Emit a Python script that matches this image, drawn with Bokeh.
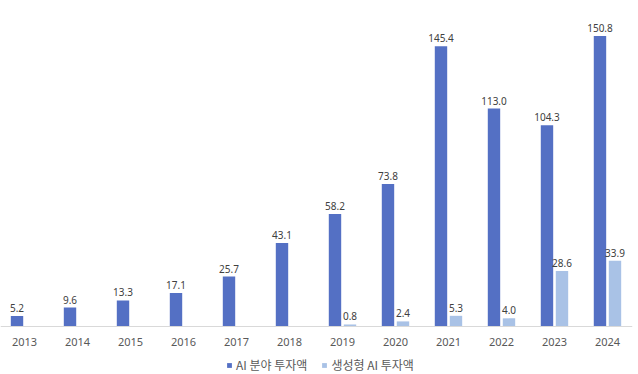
from bokeh.plotting import figure
from bokeh.models import Range1d, FixedTicker, Legend, LegendItem, ColumnDataSource
from bokeh.core.properties import value
from bokeh.embed import file_html
from bokeh.resources import INLINE

years = [2013, 2014, 2015, 2016, 2017, 2018, 2019, 2020, 2021, 2022, 2023, 2024]
ai_invest = [5.2, 9.6, 13.3, 17.1, 25.7, 43.1, 58.2, 73.8, 145.4, 113.0, 104.3, 150.8]
gen_years = [2019, 2020, 2021, 2022, 2023, 2024]
gen_invest = [0.8, 2.4, 5.3, 4.0, 28.6, 33.9]
series_names = ["AI 분야 투자액", "생성형 AI 투자액"]

DARK = "#5470c4"
LIGHT = "#a9c2e6"
OFF = 0.1415
BW = 0.234

p = figure(width=638, height=374, output_backend="svg", toolbar_location=None,
           x_range=Range1d(2012.547, 2024.472), y_range=Range1d(-25.2, 169.2),
           min_border_left=0, min_border_right=6, min_border_top=0, min_border_bottom=0)
p.outline_line_color = None
p.xgrid.visible = False
p.ygrid.visible = False
p.yaxis.visible = False

src_a = ColumnDataSource(dict(x=[y - OFF for y in years], top=ai_invest,
                              lab=[f"{v:.1f}" for v in ai_invest]))
src_g = ColumnDataSource(dict(x=[y + OFF for y in gen_years], top=gen_invest,
                              lab=[f"{v:.1f}" for v in gen_invest]))

r1 = p.vbar(x="x", top="top", width=BW, source=src_a, fill_color=DARK, line_color=None)
r2 = p.vbar(x="x", top="top", width=BW, source=src_g, fill_color=LIGHT, line_color=None)

for src in (src_a, src_g):
    p.text(x="x", y="top", text="lab", source=src, text_align="center", text_baseline="bottom",
           y_offset=-4, text_font_size="10px", text_color="#404040",
           text_font=value("Noto Sans"))

ax = p.xaxis[0]
ax.fixed_location = 0
ax.ticker = FixedTicker(ticks=years)
ax.major_tick_line_color = None
ax.minor_tick_line_color = None
ax.axis_line_color = "#d9d9d9"
ax.major_label_standoff = 6
ax.major_label_text_font = "Noto Sans"
ax.major_label_text_font_size = "11px"
ax.major_label_text_color = "#595959"

legend = Legend(items=[LegendItem(label=series_names[0], renderers=[r1]),
                       LegendItem(label=series_names[1], renderers=[r2])],
                orientation="horizontal", location=(226, 1),
                glyph_width=6, glyph_height=6, label_standoff=4, spacing=14,
                padding=0, margin=0, border_line_color=None, background_fill_alpha=0,
                label_text_font="Noto Sans CJK KR", label_text_font_size="12px",
                label_text_color="#595959", label_height=12)
p.add_layout(legend, "center")

open("out.html", "w").write(file_html(p, INLINE))
